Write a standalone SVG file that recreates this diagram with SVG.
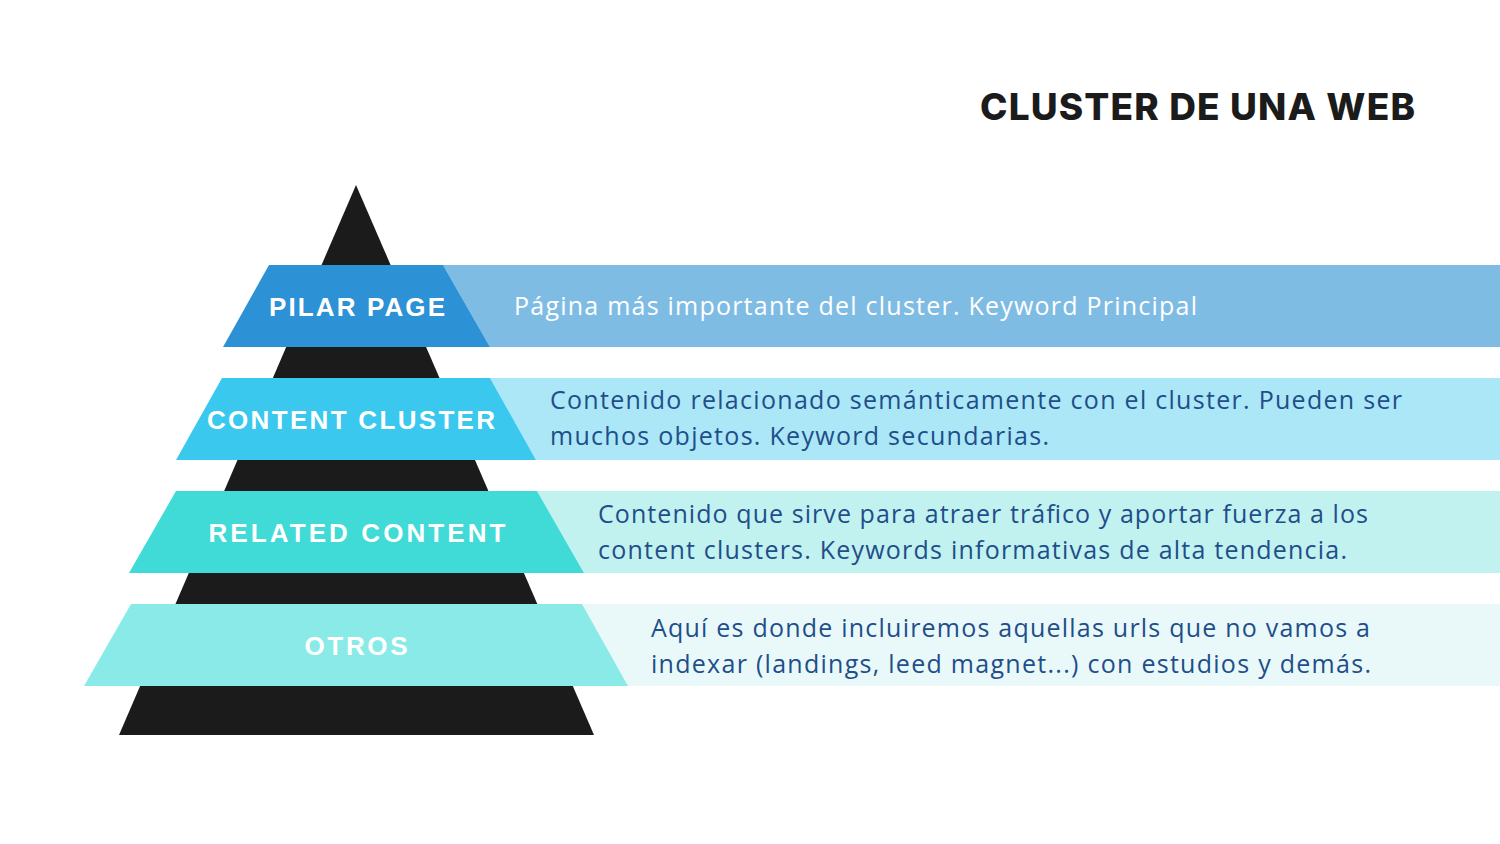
<svg xmlns="http://www.w3.org/2000/svg" width="1500" height="844" viewBox="0 0 1500 844">
<style>
.lbl{font-family:"Liberation Sans",Arial,sans-serif;font-weight:700;font-size:26px;fill:#fff;letter-spacing:2px;text-anchor:middle}
.desc{font-family:"Open Sans","Liberation Sans",sans-serif;font-size:25px;fill:#1f4e8a}
.title{font-family:Inter,"Liberation Sans",Arial,sans-serif;font-weight:800;font-size:37px;fill:#1b1b1b}
</style>
<rect width="1500" height="844" fill="#ffffff"/>
<text class="title" x="980" y="120" textLength="435">CLUSTER DE UNA WEB</text>
<g id="pyramid"><polygon points="356,185 594,735 119,735" fill="#1b1b1b"/></g>
<g id="pilar-page">
<polygon points="443,265 1500,265 1500,347 490,347" fill="#7fbce4"/>
<polygon points="269,265 443,265 490,347 223,347" fill="#2d91d6"/>
<text class="lbl" x="358" y="316" textLength="178">PILAR PAGE</text>
<text class="desc" x="514" y="315" style="fill:#ffffff" textLength="683">Página más importante del cluster. Keyword Principal</text>
</g>
<g id="content-cluster">
<polygon points="490,378 1500,378 1500,460 536,460" fill="#abe7f6"/>
<polygon points="222,378 490,378 536,460 176,460" fill="#3ac8ef"/>
<text class="lbl" x="352" y="429" textLength="290">CONTENT CLUSTER</text>
<text class="desc" x="550" y="409" textLength="852">Contenido relacionado semánticamente con el cluster. Pueden ser</text>
<text class="desc" x="550" y="445" textLength="499">muchos objetos. Keyword secundarias.</text>
</g>
<g id="related-content">
<polygon points="537,491 1500,491 1500,573 584,573" fill="#c1f2f0"/>
<polygon points="176,491 537,491 584,573 129,573" fill="#40dad7"/>
<text class="lbl" x="358" y="542" textLength="299">RELATED CONTENT</text>
<text class="desc" x="598" y="523" textLength="770">Contenido que sirve para atraer tráfico y aportar fuerza a los</text>
<text class="desc" x="598" y="559" textLength="749">content clusters. Keywords informativas de alta tendencia.</text>
</g>
<g id="otros">
<polygon points="582,604 1500,604 1500,686 628,686" fill="#e9f9fa"/>
<polygon points="131,604 582,604 628,686 84,686" fill="#8aeae8"/>
<text class="lbl" x="357" y="655" textLength="105">OTROS</text>
<text class="desc" x="651" y="637" textLength="719">Aquí es donde incluiremos aquellas urls que no vamos a</text>
<text class="desc" x="651" y="673" textLength="720">indexar (landings, leed magnet...) con estudios y demás.</text>
</g>
</svg>
